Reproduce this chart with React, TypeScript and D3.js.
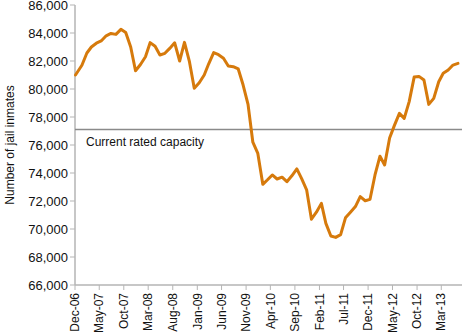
import React from "react";
import * as d3 from "d3";

const inmates: number[] = [
  81000, 81700, 82570, 83000, 83270, 83430, 83800, 83970, 83900, 84260,
  84030, 83000, 81300, 81750, 82300, 83310, 83050, 82430, 82550, 82900,
  83300, 82000, 83330, 81950, 80050, 80450, 81000, 81800, 82600, 82450,
  82200, 81640, 81590, 81430, 80300, 78900, 76200, 75400, 73190, 73500,
  73860, 73570, 73700, 73380, 73800, 74290, 73600, 72800, 70700, 71200,
  71830, 70400, 69500, 69400, 69600, 70800, 71200, 71600, 72310, 72020,
  72120, 73860, 75200, 74570, 76500, 77400, 78260, 77900, 79100, 80850,
  80900, 80640, 78900, 79330, 80520, 81120, 81360, 81710, 81830,
];
const firstMonth = { year: 2006, month: 11 };
const capacity = 77100;
const capacityLabel = "Current rated capacity";
const yTicks: number[] = [66000, 68000, 70000, 72000, 74000, 76000, 78000, 80000, 82000, 84000, 86000];
const xTickLabels: string[] = [
  "Dec-06", "May-07", "Oct-07", "Mar-08", "Aug-08", "Jan-09", "Jun-09", "Nov-09",
  "Apr-10", "Sep-10", "Feb-11", "Jul-11", "Dec-11", "May-12", "Oct-12", "Mar-13",
];
const yTitle = "Number of jail inmates";

const W = 462;
const H = 333;
const left = 75;
const right = 462;
const top = 5;
const bottom = 285;
const font = "Liberation Sans, Arial, sans-serif";

export default function App() {
  const parse = d3.timeParse("%b-%y");
  const x = d3
    .scaleTime()
    .domain([new Date(2006, 11, 1), new Date(2013, 6, 8)])
    .range([left, right]);
  const y = d3.scaleLinear().domain([66000, 86000]).range([bottom, top]);
  const pts = inmates.map((v, i) => ({
    d: new Date(firstMonth.year, firstMonth.month + i, i === 0 ? 4 : 13),
    v,
  }));
  const line = d3
    .line<{ d: Date; v: number }>()
    .x((p) => x(p.d))
    .y((p) => y(p.v));
  const axisColor = "#b5b5b5";
  return (
    <svg
      width={W}
      height={H}
      style={{ position: "absolute", left: 0, top: 0, background: "#fff" }}
      fontFamily={font}
    >
      {/* y axis */}
      <line x1={left} x2={left} y1={top} y2={bottom} stroke={axisColor} strokeWidth={1.5} />
      {yTicks.map((t) => (
        <g key={t} transform={`translate(0,${y(t)})`}>
          <line x1={left - 5} x2={left} stroke={axisColor} strokeWidth={1} />
          <text x={68} dy="0.35em" textAnchor="end" fontSize={13} fill="#111">
            {d3.format(",")(t)}
          </text>
        </g>
      ))}
      <text
        transform={`translate(10,${(top + bottom) / 2}) rotate(-90)`}
        textAnchor="middle"
        dy="0.35em"
        fontSize={12}
        fill="#111"
      >
        {yTitle}
      </text>
      {/* x axis */}
      <line x1={left} x2={right} y1={bottom} y2={bottom} stroke={axisColor} strokeWidth={1.5} />
      {xTickLabels.map((lab) => {
        const xp = x(parse(lab) as Date);
        return (
          <g key={lab} transform={`translate(${xp},${bottom})`}>
            <line y1={0} y2={5} stroke={axisColor} strokeWidth={1} />
            <text
              transform="translate(0,8) rotate(-90)"
              textAnchor="end"
              dy="0.35em"
              fontSize={12}
              fill="#111"
            >
              {lab}
            </text>
          </g>
        );
      })}
      {/* capacity line */}
      <line
        x1={left}
        x2={right}
        y1={y(capacity)}
        y2={y(capacity)}
        stroke="#8a8a8a"
        strokeWidth={1.5}
      />
      <text x={86} y={y(capacity) + 16} fontSize={12} fill="#111">
        {capacityLabel}
      </text>
      {/* data line */}
      <path
        d={line(pts) || ""}
        fill="none"
        stroke="#d67a0c"
        strokeWidth={3}
        strokeLinejoin="round"
        strokeLinecap="round"
      />
    </svg>
  );
}
